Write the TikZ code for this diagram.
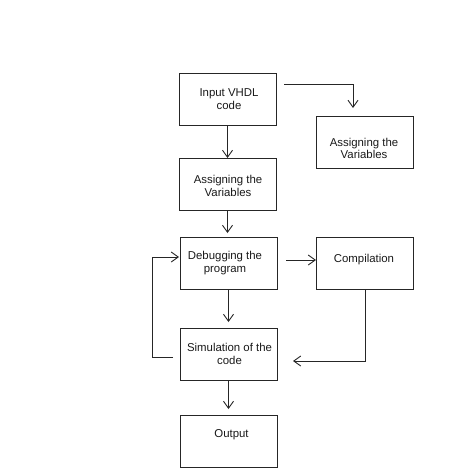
\documentclass[tikz,border=0pt]{standalone}
\usepackage{fontspec}
\setmainfont{Liberation Sans}
\usetikzlibrary{arrows.meta,calc}
\begin{document}
\begin{tikzpicture}[x=1pt,y=-1pt,
  box/.style={draw=black!85,line width=0.9pt,minimum width=97pt,minimum height=52pt,inner sep=0pt,outer sep=0pt},
  txt/.style={align=center,inner sep=0pt,font=\fontsize{11.4}{12.8}\selectfont,text=black!90},
  arr/.style={draw=black!85,line width=0.9pt,-{Straight Barb[length=7pt,width=10pt,line width=0.9pt]}},
  ln/.style={draw=black!85,line width=0.9pt}]
\useasboundingbox (0,0) rectangle (474,474);
% boxes
\node[box] (in)  at (227.5,99) {};
\node[box] (asL) at (227.5,184) {};
\node[box] (asR) at (364.5,142) {};
\node[box] (dbg) at (228.5,263) {};
\node[box] (cmp) at (365,263) {};
\node[box] (sim) at (228.5,354) {};
\node[box] (out) at (228.5,441) {};
% texts
\node[txt] (tin)  at (229,99.5) {Input VHDL\\code};
\node[txt] (tasL) at (228,186) {Assigning the\\Variables};
\node[txt] (tasR) at (364,148.5) {Assigning the\\Variables};
\node[txt] (tdbg) at (225,263) {Debugging the\\program};
\node[txt] (tcmp) at (364,259.5) {Compilation};
\node[txt] (tsim) at (229.5,354) {Simulation of the\\code};
\node[txt] (tout) at (231.5,434.5) {Output};
% free ends
\coordinate (r1) at (284,84);
\coordinate (r2) at (353,84);
\coordinate (r3) at (353,108);
\coordinate (l1) at (173,357);
\coordinate (l2) at (152,357);
\coordinate (l3) at (152,257);
\coordinate (l4) at (179,257);
\coordinate (d1) at (286,260);
\coordinate (d2) at (316,260);
\coordinate (c2) at (365,361);
\coordinate (c3) at (293,361);
% connectors
\draw[arr] (in.south) -- (asL.north);
\draw[arr] (r1) -- (r2) -- (r3);
\draw[arr,shorten >=4pt] (asL.south) -- (asL.south |- dbg.north);
\draw[arr] (d1) -- (d2);
\draw[arr] (l1) -- (l2) -- (l3) -- (l4);
\draw[arr,shorten >=6pt] (dbg.south) -- (sim.north);
\draw[arr] (cmp.south) -- (c2) -- (c3);
\draw[arr,shorten >=6pt] (sim.south) -- (out.north);
\end{tikzpicture}
\end{document}
